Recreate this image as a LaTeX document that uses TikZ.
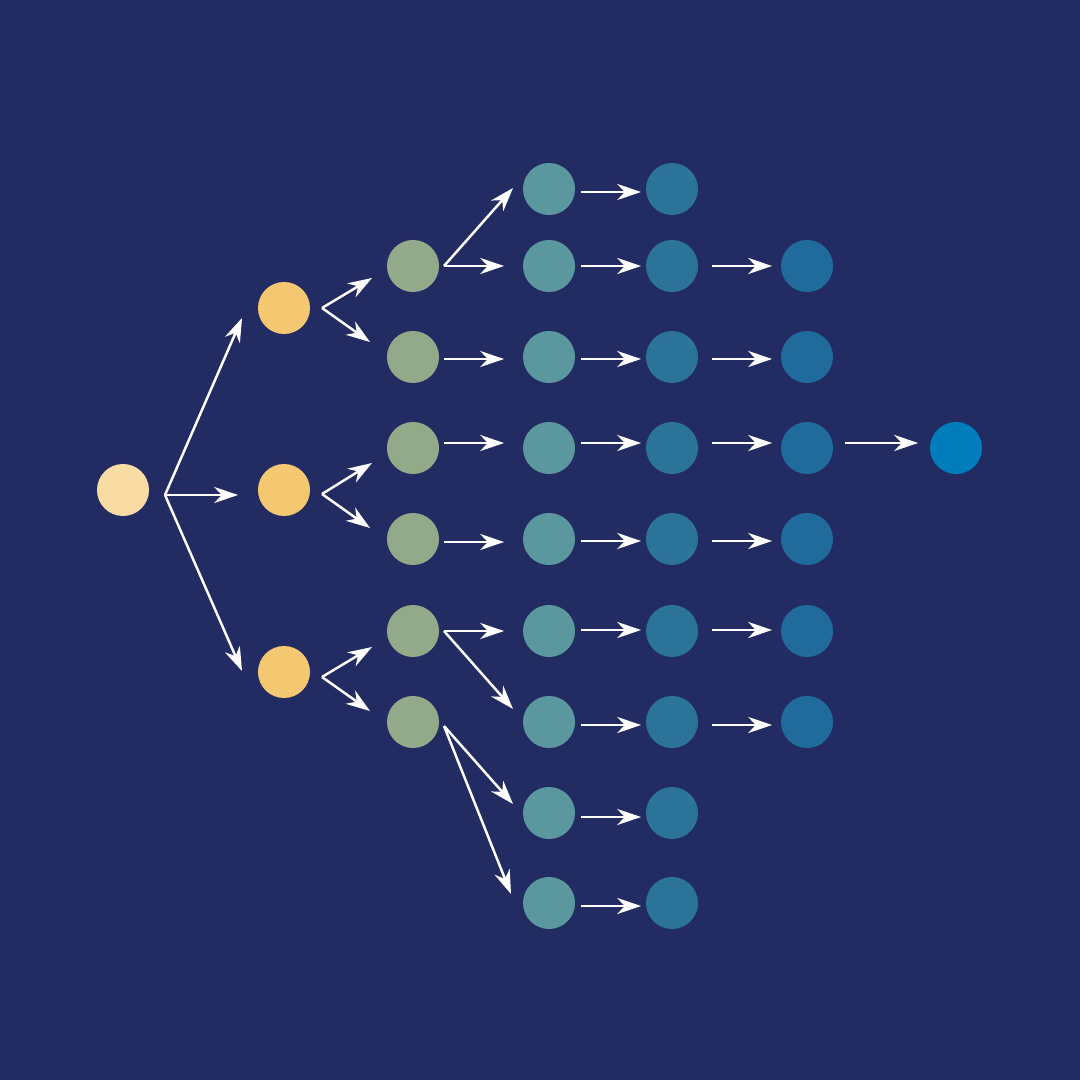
\documentclass[tikz,border=0pt]{standalone}
\usetikzlibrary{calc,arrows.meta}
\definecolor{bg}{HTML}{232B63}
\definecolor{cRoot}{HTML}{F9DCA4}
\definecolor{cOne}{HTML}{F3C870}
\definecolor{cTwo}{HTML}{93AA8A}
\definecolor{cThree}{HTML}{5B979E}
\definecolor{cFour}{HTML}{2C739A}
\definecolor{cFive}{HTML}{206B9C}
\definecolor{cSix}{HTML}{007DBA}
\tikzset{
  dot/.style={circle,inner sep=0pt,minimum size=0.52cm,draw=none},
  arr/.style={draw=white,line width=0.7pt,-{Stealth[length=6.8pt,width=4.6pt,inset=2.2pt]}}
}
\newcommand\link[4]{\draw[arr] ($(#1)+(#2)$) -- ($(#3)+(#4)$);}
\begin{document}
\begin{tikzpicture}[x=0.01cm,y=-0.01cm]
\fill[bg] (0,0) rectangle (1080,1080);
\useasboundingbox (0,0) rectangle (1080,1080);
% nodes
\node[dot,fill=cRoot] (r0) at (123,490) {};
\node[dot,fill=cOne] (a1) at (284,308) {};
\node[dot,fill=cOne] (a2) at (284,490) {};
\node[dot,fill=cOne] (a3) at (284,672) {};
\foreach \i/\y in {1/266,2/357,3/448,4/539,5/631,6/722}{
  \node[dot,fill=cTwo] (b\i) at (413,\y) {};
}
\foreach \i/\y in {1/189,2/266,3/357,4/448,5/539,6/631,7/722,8/813,9/903}{
  \node[dot,fill=cThree] (c\i) at (549,\y) {};
  \node[dot,fill=cFour] (d\i) at (672,\y) {};
}
\foreach \i/\y in {2/266,3/357,4/448,5/539,6/631,7/722}{
  \node[dot,fill=cFive] (e\i) at (807,\y) {};
}
\node[dot,fill=cSix] (f4) at (956,448) {};
% root -> level 1
\link{r0}{42,5}{a1}{-42,10}
\link{r0}{42,5}{a2}{-46,5}
\link{r0}{42,5}{a3}{-42,-1}
% level 1 -> level 2
\link{a1}{38,0}{b1}{-41,12}
\link{a1}{38,0}{b2}{-43,-15}
\link{a2}{38,4}{b3}{-41,15}
\link{a2}{38,4}{b4}{-43,-11}
\link{a3}{38,5}{b5}{-41,16}
\link{a3}{38,5}{b6}{-43,-11}
% level 2 -> level 3
\link{b1}{31,0}{c1}{-36,-1}
\link{b1}{31,0}{c2}{-45,0}
\link{b2}{31,2}{c3}{-45,2}
\link{b3}{31,-5}{c4}{-45,-5}
\link{b4}{31,3}{c5}{-45,3}
\link{b5}{31,0}{c6}{-45,0}
\link{b5}{31,0}{c7}{-36,-13}
\link{b6}{31,4}{c8}{-36,-9}
\link{b6}{31,4}{c9}{-38,-9}
% level 3 -> level 4
\foreach \i/\dy in {1/3,2/0,3/2,4/-5,5/2,6/-1,7/3,8/4,9/3}{
  \link{c\i}{32,\dy}{d\i}{-31,\dy}
}
% level 4 -> level 5
\foreach \i/\dy in {2/0,3/2,4/-5,5/2,6/-1,7/3}{
  \link{d\i}{40,\dy}{e\i}{-35,\dy}
}
% level 5 -> level 6
\link{e4}{38,-5}{f4}{-38,-5}
\end{tikzpicture}
\end{document}
